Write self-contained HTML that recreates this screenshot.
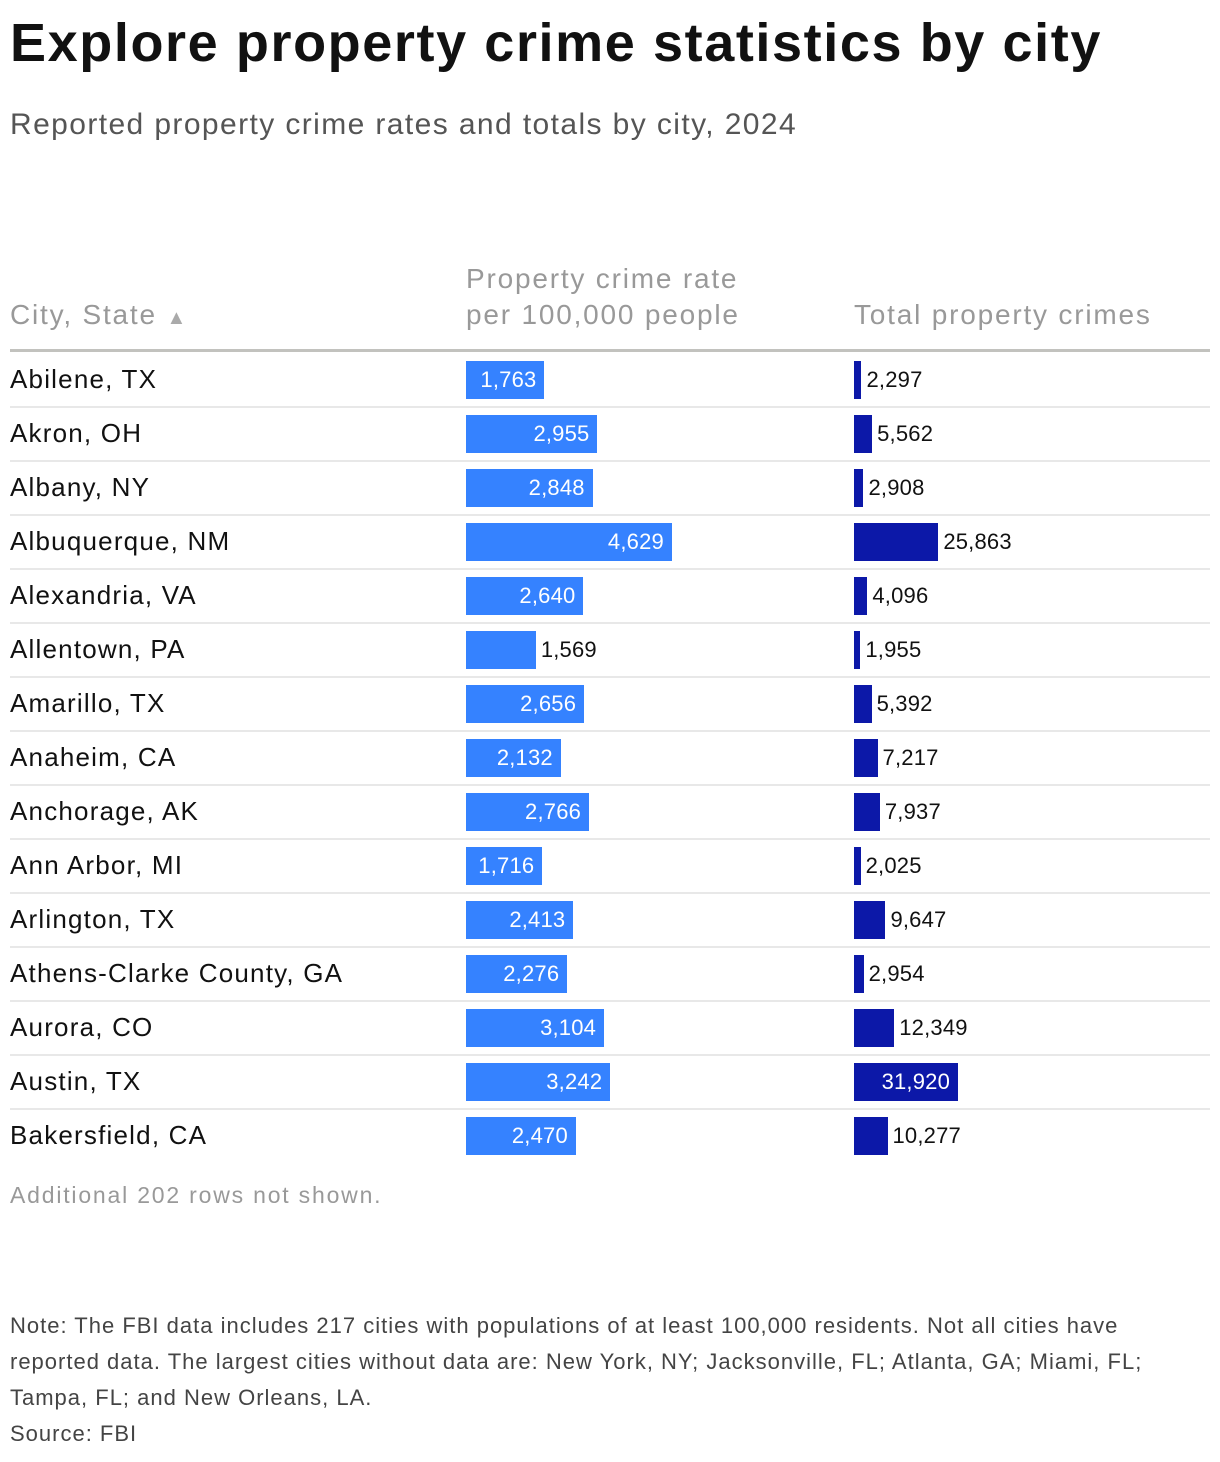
<!DOCTYPE html>
<html><head><meta charset="utf-8"><style>
body{margin:0;background:#fff;font-family:"Liberation Sans",sans-serif;color:#111;width:1220px;height:1462px;overflow:hidden;position:relative}
.abs{position:absolute;white-space:nowrap}
h1{position:absolute;left:10px;top:12px;margin:0;font-size:54px;font-weight:bold;letter-spacing:1.6px;color:#111}
.sub{left:10px;top:108px;font-size:30px;color:#555;letter-spacing:1.4px}
.hdr{color:#999;font-size:28px;line-height:36px;letter-spacing:1.8px}
.row-label{left:10px;font-size:26px;color:#111;letter-spacing:1.2px}
.val{font-size:22px;line-height:38px;letter-spacing:0.2px}
.note{left:10px;font-size:22px;color:#444;line-height:36px;letter-spacing:1px}
</style></head><body>
<h1>Explore property crime statistics by city</h1>
<div class="abs sub">Reported property crime rates and totals by city, 2024</div>
<div class="abs hdr" style="left:10px;top:297px">City, State <span style="font-size:20px;color:#aaa">▲</span></div>
<div class="abs hdr" style="left:466px;top:261px">Property crime rate<br>per 100,000 people</div>
<div class="abs hdr" style="left:854px;top:297px">Total property crimes</div>
<div class="abs" style="left:10px;top:349px;width:1200px;height:3px;background:#c2c2be"></div>
<div id="rows"></div>
<div class="abs" style="left:10px;top:1182px;font-size:23px;color:#999;letter-spacing:1.8px">Additional 202 rows not shown.</div>
<div class="abs note" style="top:1308px">Note: The FBI data includes 217 cities with populations of at least 100,000 residents. Not all cities have<br>reported data. The largest cities without data are: New York, NY; Jacksonville, FL; Atlanta, GA; Miami, FL;<br>Tampa, FL; and New Orleans, LA.<br>Source: FBI</div>
<script>
const cities=["Abilene, TX","Akron, OH","Albany, NY","Albuquerque, NM","Alexandria, VA","Allentown, PA","Amarillo, TX","Anaheim, CA","Anchorage, AK","Ann Arbor, MI","Arlington, TX","Athens-Clarke County, GA","Aurora, CO","Austin, TX","Bakersfield, CA"];
const rates=[1763,2955,2848,4629,2640,1569,2656,2132,2766,1716,2413,2276,3104,3242,2470];
const totals=[2297,5562,2908,25863,4096,1955,5392,7217,7937,2025,9647,2954,12349,31920,10277];
const xRate=v=>v*0.0445;
const xTotal=v=>v*0.00326;
const root=document.getElementById('rows');
const ctx=document.createElement('canvas').getContext('2d');
ctx.font='22px "Liberation Sans"';
const fmt=v=>v.toLocaleString('en-US');
function bar(x0,top,w,color,v,name,thr){
  const b=document.createElement('div');
  b.className='abs';
  b.style.cssText=`left:${x0}px;top:${top+8}px;width:${w}px;height:38px;background:${color}`;
  
  
  root.appendChild(b);
  const t=document.createElement('div');
  t.className='abs val';
  const s=fmt(v);t.textContent=s;
  const tw=ctx.measureText(s).width+s.length*0.2;
  if(w>tw+thr){t.style.cssText=`left:${x0+w-tw-8}px;top:${top+8}px;color:#fff`;}
  else{t.style.cssText=`left:${x0+w+5}px;top:${top+8}px;color:#111`;}
  
  
  root.appendChild(t);
}
cities.forEach((c,i)=>{
  const top=353+i*54;
  const l=document.createElement('div');
  l.className='abs row-label';
  l.style.top=(top+11)+'px';
  l.textContent=c;
  
  
  root.appendChild(l);
  bar(466,top,xRate(rates[i]),'#3582ff',rates[i],'rate',20);
  bar(854,top,xTotal(totals[i]),'#0c18a8',totals[i],'total',20);
  if(i<cities.length-1){
    const s=document.createElement('div');
    s.className='abs';
    s.style.cssText=`left:10px;top:${top+53}px;width:1200px;height:2px;background:#e8e8e8`;
    
    
    root.appendChild(s);
  }
});
</script>
</body></html>
